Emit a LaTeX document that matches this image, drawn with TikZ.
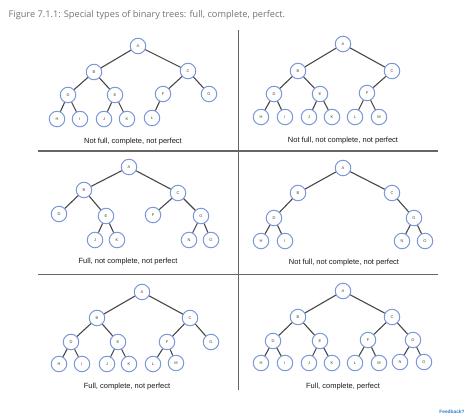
\documentclass[tikz,border=0pt]{standalone}
\usepackage{fontspec}
\setmainfont{Liberation Sans}
\newfontfamily\titlefont{Open Sans}
\definecolor{nodeblue}{HTML}{7D98D8}
\definecolor{linkblue}{HTML}{2A7FC8}

\begin{document}
\begin{tikzpicture}[x=1pt,y=-1pt,line width=0.8pt,
  vtx/.style={circle,draw=nodeblue,fill=white,line width=1pt,
    minimum size=15.5pt,inner sep=0pt,font=\fontsize{4}{4}\selectfont,text=black!75},
  edge/.style={draw=black!72,line width=1.1pt},
  grid/.style={draw=black!60,line width=1.1pt},
  caption/.style={font=\fontsize{7.5}{8}\selectfont,text=black!90}]
\useasboundingbox (0,0) rectangle (474,419);
% ---- title and grid ----
\node[anchor=west,font=\titlefont\fontsize{9.2}{11}\selectfont,text=black!55] (title) at (5,15)
  {Figure 7.1.1: Special types of binary trees: full, complete, perfect.};
\draw[grid] (238.5,30) -- (238.5,390);
\draw[grid] (38,151) -- (438,151);
\draw[grid] (38,274.5) -- (438,274.5);
% ---- panel 1 : not full, complete, not perfect ----
\node[vtx] (A1) at (138,46) {A};
\node[vtx] (B1) at (94,72) {B};
\node[vtx] (C1) at (188,71) {C};
\node[vtx] (D1) at (68,95) {D};
\node[vtx] (E1) at (115,95) {E};
\node[vtx] (F1) at (163,94) {F};
\node[vtx] (G1) at (209,94) {G};
\node[vtx] (H1) at (57,119) {H};
\node[vtx] (I1) at (80,119) {I};
\node[vtx] (J1) at (104,119) {J};
\node[vtx] (K1) at (127,119) {K};
\node[vtx] (L1) at (152,118) {L};
\draw[edge] (A1) -- (B1) (A1) -- (C1) (B1) -- (D1) (B1) -- (E1) (C1) -- (F1) (C1) -- (G1)
  (D1) -- (H1) (D1) -- (I1) (E1) -- (J1) (E1) -- (K1) (F1) -- (L1);
\node[caption] (cap1) at (133,142) {Not full, complete, not perfect};
% ---- panel 2 : not full, not complete, not perfect ----
\node[vtx] (A2) at (343,44) {A};
\node[vtx] (B2) at (298,71) {B};
\node[vtx] (C2) at (392,71) {C};
\node[vtx] (D2) at (274,94) {D};
\node[vtx] (E2) at (320,94) {E};
\node[vtx] (F2) at (367,93) {F};
\node[vtx] (H2) at (261,117) {H};
\node[vtx] (I2) at (285,117) {I};
\node[vtx] (J2) at (309,117) {J};
\node[vtx] (K2) at (332,117) {K};
\node[vtx] (L2) at (355,117) {L};
\node[vtx] (M2) at (379,117) {M};
\draw[edge] (A2) -- (B2) (A2) -- (C2) (B2) -- (D2) (B2) -- (E2) (C2) -- (F2)
  (D2) -- (H2) (D2) -- (I2) (E2) -- (J2) (E2) -- (K2) (F2) -- (L2) (F2) -- (M2);
\node[caption] (cap2) at (343,141) {Not full, not complete, not perfect};
% ---- panel 3 : full, not complete, not perfect ----
\node[vtx] (A3) at (129,167) {A};
\node[vtx] (B3) at (84,190) {B};
\node[vtx] (C3) at (178,193) {C};
\node[vtx] (D3) at (59,214) {D};
\node[vtx] (E3) at (106,216) {E};
\node[vtx] (F3) at (153,215) {F};
\node[vtx] (G3) at (201,216) {G};
\node[vtx] (J3) at (95,240) {J};
\node[vtx] (K3) at (117,240) {K};
\node[vtx] (N3) at (189,240) {N};
\node[vtx] (O3) at (211,240) {O};
\draw[edge] (A3) -- (B3) (A3) -- (C3) (B3) -- (D3) (B3) -- (E3) (C3) -- (F3) (C3) -- (G3)
  (E3) -- (J3) (E3) -- (K3) (G3) -- (N3) (G3) -- (O3);
\node[caption] (cap3) at (128,262) {Full, not complete, not perfect};
% ---- panel 4 : not full, not complete, not perfect ----
\node[vtx] (A4) at (343,168) {A};
\node[vtx] (B4) at (298,193) {B};
\node[vtx] (C4) at (392,193) {C};
\node[vtx] (D4) at (274,218) {D};
\node[vtx] (G4) at (414,218) {G};
\node[vtx] (H4) at (261,241) {H};
\node[vtx] (I4) at (285,241) {I};
\node[vtx] (N4) at (402,241) {N};
\node[vtx] (O4) at (425,241) {O};
\draw[edge] (A4) -- (B4) (A4) -- (C4) (B4) -- (D4) (C4) -- (G4)
  (D4) -- (H4) (D4) -- (I4) (G4) -- (N4) (G4) -- (O4);
\node[caption] (cap4) at (344,263) {Not full, not complete, not perfect};
% ---- panel 5 : full, complete, not perfect ----
\node[vtx] (A5) at (142,292) {A};
\node[vtx] (B5) at (97,318) {B};
\node[vtx] (C5) at (190,318) {C};
\node[vtx] (D5) at (71,342) {D};
\node[vtx] (E5) at (118,342) {E};
\node[vtx] (F5) at (167,342) {F};
\node[vtx] (G5) at (211,342) {G};
\node[vtx] (H5) at (59,364) {H};
\node[vtx] (I5) at (82,364) {I};
\node[vtx] (J5) at (107,364) {J};
\node[vtx] (K5) at (129,364) {K};
\node[vtx] (L5) at (153,364) {L};
\node[vtx] (M5) at (176,363) {M};
\draw[edge] (A5) -- (B5) (A5) -- (C5) (B5) -- (D5) (B5) -- (E5) (C5) -- (F5) (C5) -- (G5)
  (D5) -- (H5) (D5) -- (I5) (E5) -- (J5) (E5) -- (K5) (F5) -- (L5) (F5) -- (M5);
\node[caption] (cap5) at (127,387) {Full, complete, not perfect};
% ---- panel 6 : full, complete, perfect ----
\node[vtx] (A6) at (343,291) {A};
\node[vtx] (B6) at (298,317) {B};
\node[vtx] (C6) at (392,317) {C};
\node[vtx] (D6) at (273,341) {D};
\node[vtx] (E6) at (320,341) {E};
\node[vtx] (F6) at (368,340) {F};
\node[vtx] (G6) at (413,340) {G};
\node[vtx] (H6) at (261,363) {H};
\node[vtx] (I6) at (285,363) {I};
\node[vtx] (J6) at (309,363) {J};
\node[vtx] (K6) at (332,363) {K};
\node[vtx] (L6) at (355,363) {L};
\node[vtx] (M6) at (379,363) {M};
\node[vtx] (N6) at (400,362) {N};
\node[vtx] (O6) at (424,362) {O};
\draw[edge] (A6) -- (B6) (A6) -- (C6) (B6) -- (D6) (B6) -- (E6) (C6) -- (F6) (C6) -- (G6)
  (D6) -- (H6) (D6) -- (I6) (E6) -- (J6) (E6) -- (K6) (F6) -- (L6) (F6) -- (M6)
  (G6) -- (N6) (G6) -- (O6);
\node[caption] (cap6) at (343,387) {Full, complete, perfect};
% ---- feedback link ----
\node[font=\bfseries\fontsize{4.8}{5}\selectfont,text=linkblue] (fb) at (452,412) {Feedback?};
\end{tikzpicture}
\end{document}
